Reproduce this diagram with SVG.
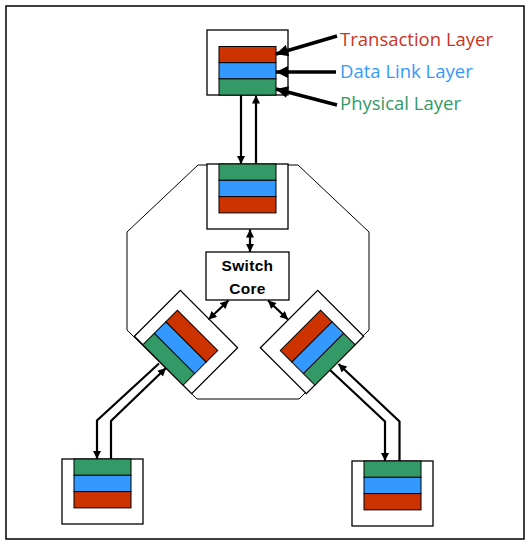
<svg xmlns="http://www.w3.org/2000/svg" width="532" height="546" viewBox="0 0 532 546">
<style>
.box{fill:#fff;stroke:#000;stroke-width:1.3}
.tl{fill:#cc3300;stroke:#000;stroke-width:1}
.dl{fill:#3399ff;stroke:#000;stroke-width:1}
.ph{fill:#339966;stroke:#000;stroke-width:1}
.con{fill:none;stroke:#000;stroke-width:2.2}
.lab{fill:none;stroke:#000;stroke-width:3.5}
.lt{font-family:"Open Sans","Noto Sans",sans-serif;font-size:18.5px}
.core{font-family:"Liberation Sans",Arial,sans-serif;font-size:15.5px;font-weight:bold;fill:#000;text-anchor:middle;letter-spacing:0.3px}
</style>
<defs>
<marker id="ah" viewBox="0 0 10 10" refX="10" refY="5" markerWidth="9" markerHeight="8" markerUnits="userSpaceOnUse" orient="auto-start-reverse">
<path d="M0,0 L10,5 L0,10 z" fill="#000"/>
</marker>
<marker id="big" viewBox="0 0 10 10" refX="10" refY="5" markerWidth="13" markerHeight="12" markerUnits="userSpaceOnUse" orient="auto">
<path d="M0,0 L10,5 L0,10 z" fill="#000"/>
</marker>
<g id="stackDown">
<rect class="ph" x="-28.5" y="-32.5" width="57" height="16.3"/>
<rect class="dl" x="-28.5" y="-16.2" width="57" height="16.3"/>
<rect class="tl" x="-28.5" y="0.1" width="57" height="16.3"/>
</g>
</defs>
<rect x="6" y="6" width="518" height="533" fill="#fff" stroke="#000" stroke-width="1.5"/>

<g id="switch-outline">
<polygon points="198,165 298,165 369,232 369,330 299,399 197,399 127,330 127,232" fill="#fff" stroke="#000" stroke-width="1"/>
</g>

<g id="top-node">
<rect class="box" x="207" y="30" width="81" height="65"/>
<rect class="tl" x="219" y="46.5" width="57" height="16.2"/>
<rect class="dl" x="219" y="62.7" width="57" height="16.2"/>
<rect class="ph" x="219" y="78.9" width="57" height="16.2"/>
</g>

<g id="switch-top-port">
<rect class="box" x="207" y="164" width="81" height="65"/>
<use href="#stackDown" transform="translate(247.5,196.5)"/>
</g>

<g id="switch-core">
<rect class="box" x="206" y="252" width="83" height="48"/>
<text class="core" x="247.5" y="271">Switch</text>
<text class="core" x="247.5" y="294">Core</text>
</g>

<g id="switch-left-port" transform="translate(186,342) rotate(-135)">
<rect class="box" x="-40.5" y="-32.5" width="81" height="65"/>
<use href="#stackDown"/>
</g>

<g id="switch-right-port" transform="translate(312,342) rotate(135)">
<rect class="box" x="-40.5" y="-32.5" width="81" height="65"/>
<use href="#stackDown"/>
</g>

<g id="bottom-left-node">
<rect class="box" x="62" y="459" width="81" height="65"/>
<use href="#stackDown" transform="translate(102.5,491.5)"/>
</g>

<g id="bottom-right-node">
<rect class="box" x="352" y="461" width="81" height="65"/>
<use href="#stackDown" transform="translate(392.5,493.5)"/>
</g>

<g id="connectors">
<line class="con" x1="241" y1="95" x2="241" y2="164" marker-end="url(#ah)"/>
<line class="con" x1="256" y1="164" x2="256" y2="95.5" marker-end="url(#ah)"/>
<line class="con" x1="250" y1="229.5" x2="250" y2="252" marker-start="url(#ah)" marker-end="url(#ah)"/>
<line class="con" x1="208.5" y1="319.5" x2="228.5" y2="300.5" marker-start="url(#ah)" marker-end="url(#ah)"/>
<line class="con" x1="268" y1="300.5" x2="288" y2="319.5" marker-start="url(#ah)" marker-end="url(#ah)"/>
<polyline class="con" points="159,363.5 97,420.5 97,459" marker-end="url(#ah)"/>
<polyline class="con" points="111,459 111,421 166,368" marker-end="url(#ah)"/>
<polyline class="con" points="330,370 385,421.5 385,461" marker-end="url(#ah)"/>
<polyline class="con" points="399.5,461 399.5,421.5 338.5,364" marker-end="url(#ah)"/>
<line class="lab" x1="337" y1="36" x2="276" y2="54" marker-end="url(#big)"/>
<line class="lab" x1="336" y1="72" x2="276" y2="72" marker-end="url(#big)"/>
<line class="lab" x1="337" y1="105" x2="276" y2="89" marker-end="url(#big)"/>
</g>

<g id="labels">
<text class="lt" x="340" y="46" fill="#cc3322">Transaction Layer</text>
<text class="lt" x="340" y="78" fill="#3399ff">Data Link Layer</text>
<text class="lt" x="340" y="110" fill="#339966">Physical Layer</text>
</g>
</svg>
